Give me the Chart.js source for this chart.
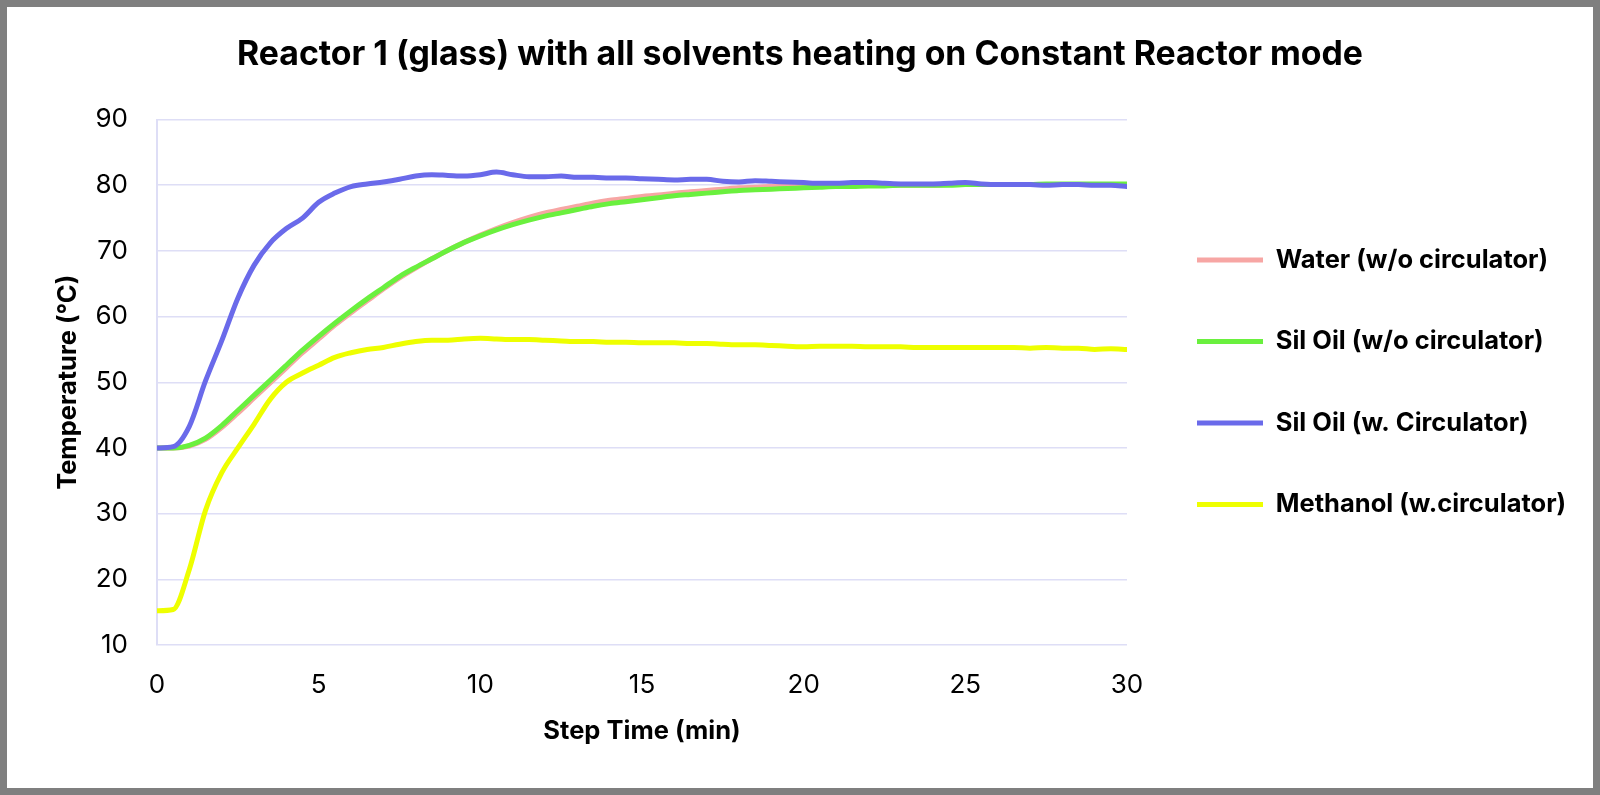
<!DOCTYPE html>
<html>
<head>
<meta charset="utf-8">
<title>Reactor 1 heating</title>
<script src="https://cdn.jsdelivr.net/npm/chart.js@4/dist/chart.umd.min.js"></script>
<style>
    html, body { margin: 0; padding: 0; background: #fff; }
    .frame {
        width: 1600px;
        height: 795px;
        box-sizing: border-box;
        border: 7px solid #7f7f7f;
        background: #fff;
    }
    .frame canvas { display: block; }
</style>
</head>
<body>
<div class="frame">
    <canvas id="reactorChart" width="1586" height="781"></canvas>
</div>
<script>
// Step time (min), sampled every half minute
const timeMin = [
    0, 0.5, 1, 1.5, 2, 2.5, 3, 3.5, 4, 4.5, 5, 5.5, 6, 6.5, 7, 7.5, 8, 8.5, 9, 9.5,
    10, 10.5, 11, 11.5, 12, 12.5, 13, 13.5, 14, 14.5, 15, 15.5, 16, 16.5, 17, 17.5, 18, 18.5, 19, 19.5,
    20, 20.5, 21, 21.5, 22, 22.5, 23, 23.5, 24, 24.5, 25, 25.5, 26, 26.5, 27, 27.5, 28, 28.5, 29, 29.5, 30
];

// Temperatures (°C)
const waterNoCirc = [
    40.0, 40.0, 40.3, 41.3, 43.1, 45.3, 47.6, 49.9, 52.2, 54.5, 56.6, 58.7, 60.6, 62.4, 64.2, 65.9, 67.4, 68.8, 70.1, 71.3,
    72.4, 73.4, 74.3, 75.1, 75.8, 76.3, 76.8, 77.3, 77.7, 78.0, 78.3, 78.5, 78.8, 79.0, 79.2, 79.4, 79.6, 79.7, 79.8, 79.8,
    79.9, 79.9, 80.0, 80.0, 80.0, 80.0, 80.0, 80.0, 80.0, 80.1, 80.1, 80.1, 80.1, 80.1, 80.1, 80.1, 80.1, 80.1, 80.1, 80.1, 80.1
];
const silOilNoCirc = [
    40.0, 40.0, 40.4, 41.5, 43.4, 45.7, 48.0, 50.3, 52.6, 54.9, 57.0, 59.0, 60.9, 62.7, 64.4, 66.1, 67.5, 68.8, 70.1, 71.3,
    72.3, 73.2, 74.0, 74.7, 75.3, 75.8, 76.3, 76.8, 77.2, 77.5, 77.8, 78.1, 78.4, 78.6, 78.8, 79.0, 79.2, 79.3, 79.4, 79.5,
    79.6, 79.7, 79.8, 79.8, 79.9, 79.9, 80.0, 80.0, 80.0, 80.0, 80.1, 80.1, 80.1, 80.1, 80.1, 80.2, 80.2, 80.2, 80.2, 80.2, 80.2
];
const silOilCirc = [
    40.0, 40.2, 43.3, 50.2, 56.3, 62.8, 67.8, 71.2, 73.4, 75.0, 77.4, 78.8, 79.8, 80.2, 80.5, 80.9, 81.4, 81.6, 81.5, 81.4,
    81.6, 82.0, 81.6, 81.3, 81.3, 81.4, 81.2, 81.2, 81.1, 81.1, 81.0, 80.9, 80.8, 80.9, 80.9, 80.6, 80.5, 80.7, 80.6, 80.5,
    80.4, 80.3, 80.3, 80.4, 80.4, 80.3, 80.2, 80.2, 80.2, 80.3, 80.4, 80.2, 80.1, 80.1, 80.1, 80.0, 80.1, 80.1, 80.0, 80.0, 79.8
];
const methanolCirc = [
    15.2, 15.4, 21.5, 30.5, 36.2, 40.0, 43.6, 47.4, 50.0, 51.4, 52.6, 53.8, 54.5, 55.0, 55.3, 55.8, 56.2, 56.4, 56.4, 56.6,
    56.7, 56.6, 56.5, 56.5, 56.4, 56.3, 56.2, 56.2, 56.1, 56.1, 56.0, 56.0, 56.0, 55.9, 55.9, 55.8, 55.7, 55.7, 55.6, 55.5,
    55.4, 55.5, 55.5, 55.5, 55.4, 55.4, 55.4, 55.3, 55.3, 55.3, 55.3, 55.3, 55.3, 55.3, 55.2, 55.3, 55.2, 55.2, 55.0, 55.1, 55.0
];

const seriesNames = ['Water (w/o circulator)', 'Sil Oil (w/o circulator)', 'Sil Oil (w. Circulator)', 'Methanol (w.circulator)'];
const seriesColors = ['#f7a6a4', '#6af03e', '#6a6aea', '#eeff00'];
const seriesValues = [waterNoCirc, silOilNoCirc, silOilCirc, methanolCirc];
// lower order is painted on top
const seriesOrder = [2, 1, 0, 3];

const yTicks = [10, 20, 30, 40, 50, 60, 70, 80, 90];
const xTicks = [0, 5, 10, 15, 20, 25, 30];

const FONT = 'Inter, "Noto Sans", sans-serif';
const gridColor = '#dedef6';
const LEGEND_WIDTH = 466;

const toPoints = (vals) => vals.map((v, i) => ({ x: timeMin[i], y: v }));

const datasets = seriesNames.map((name, i) => ({
    label: name,
    data: toPoints(seriesValues[i]),
    borderColor: seriesColors[i],
    backgroundColor: seriesColors[i],
    borderWidth: 5,
    borderCapStyle: 'round',
    pointRadius: 0,
    cubicInterpolationMode: 'monotone',
    order: seriesOrder[i]
}));

// fixed-width legend column, pushed a bit away from the plot like the original
const legendBox = {
    id: 'legendBox',
    beforeLayout(chart) {
        const legend = chart.legend;
        if (legend && !legend._fixedFit) {
            const fit = legend.fit;
            legend.fit = function () {
                fit.call(this);
                this.width = LEGEND_WIDTH;
            };
            legend._fixedFit = true;
        }
    },
    afterLayout(chart) {
        if (chart.legend) {
            chart.legend.left += 14;
            chart.legend.right += 14;
        }
    }
};

new Chart(document.getElementById('reactorChart'), {
    type: 'line',
    data: { datasets },
    plugins: [legendBox],
    options: {
        responsive: false,
        animation: false,
        layout: { padding: 0 },
        plugins: {
            title: {
                display: true,
                text: 'Reactor 1 (glass) with all solvents heating on Constant Reactor mode',
                color: '#000',
                font: { family: FONT, size: 33.8, weight: 'bold' },
                padding: { top: 28, bottom: 44 }
            },
            legend: {
                position: 'right',
                fullSize: false,
                align: 'center',
                labels: {
                    color: '#000',
                    font: { family: FONT, size: 25.5, weight: 'bold' },
                    usePointStyle: true,
                    pointStyle: 'line',
                    pointStyleWidth: 66,
                    padding: 56,
                    sort: (a, b) => a.datasetIndex - b.datasetIndex
                }
            },
            tooltip: { enabled: false }
        },
        scales: {
            x: {
                type: 'linear',
                min: 0,
                max: 30,
                afterBuildTicks: (scale) => { scale.ticks = xTicks.map(v => ({ value: v })); },
                afterFit: (scale) => { scale.height = 143; },
                grid: { display: false, drawTicks: false },
                border: { display: false },
                ticks: {
                    color: '#000',
                    padding: 25,
                    maxRotation: 0,
                    font: { family: FONT, size: 26 }
                },
                title: {
                    display: true,
                    text: 'Step Time (min)',
                    color: '#000',
                    font: { family: FONT, size: 25.5, weight: 'bold' },
                    padding: { top: 16, bottom: 41 }
                }
            },
            y: {
                min: 10,
                max: 90,
                afterBuildTicks: (scale) => { scale.ticks = yTicks.map(v => ({ value: v })); },
                afterFit: (scale) => { scale.width = 150; },
                grid: { color: gridColor, lineWidth: 1.5, drawTicks: false },
                border: { display: true, color: gridColor, width: 2 },
                ticks: {
                    color: '#000',
                    padding: 29,
                    font: { family: FONT, size: 26 }
                },
                title: {
                    display: true,
                    text: 'Temperature (°C)',
                    color: '#000',
                    font: { family: FONT, size: 25.5, weight: 'bold' },
                    padding: { top: 46, bottom: 0 }
                }
            }
        }
    }
});
</script>
</body>
</html>
